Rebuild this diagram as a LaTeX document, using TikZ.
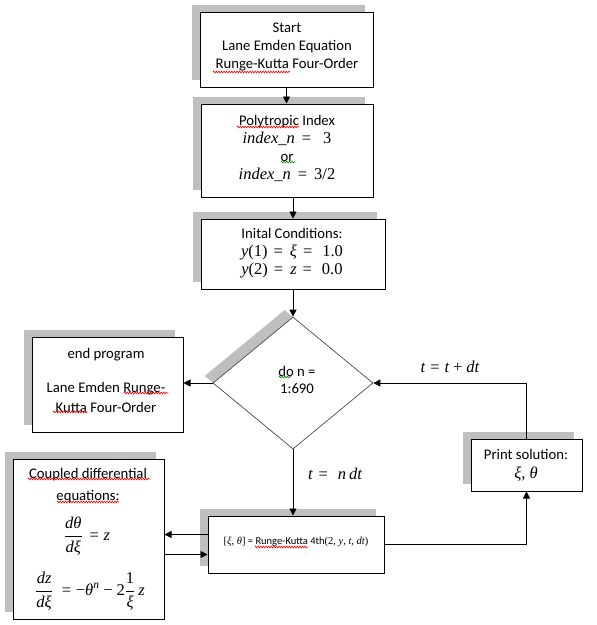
\documentclass[tikz,border=0pt]{standalone}
\usepackage{fontspec}
\setmainfont{Carlito}
\newfontfamily\mf{Liberation Serif}
\usepackage{amsmath}
\newcommand\mv[1]{{\mf\itshape #1}}
\newcommand\mn[1]{{\mf #1}}
\newcommand\tv[1]{\text{\mf\itshape #1}}
\newcommand\tn[1]{\text{\mf #1}}
\newcommand\meq[2]{\mn{\hspace{#1}=\hspace{#2}}}
\newcommand\mfs{\fontsize{16.5}{18}\selectfont}
\usetikzlibrary{shapes.geometric,shadows,arrows.meta,decorations.pathmorphing}
\begin{document}
\begin{tikzpicture}[x=1pt,y=-1pt,
  box/.style={draw=black,line width=1pt,fill=white,inner sep=0pt,
    general shadow={shadow xshift=-8pt,shadow yshift=7pt,fill=black!25}},
  txt/.style={align=center,inner sep=0pt,font=\fontsize{14.7}{18}\selectfont},
  conn/.style={line width=0.9pt,-{Triangle[length=7pt,width=7pt]}},
  rsq/.style={draw=red,line width=0.6pt,decorate,decoration={zigzag,segment length=2.6pt,amplitude=0.9pt}},
  gsq/.style={rsq,draw=green!55!black}]
\useasboundingbox (0,0) rectangle (597,625);
\fill[white] (0,0) rectangle (597,625);

\node[box,minimum width=173pt,minimum height=75pt] (s) at (286.5,49.5) {};
\node[txt] (ts) at (287,46.5) {Start\\Lane Emden Equation\\Runge-Kutta Four-Order};

\node[box,minimum width=172pt,minimum height=93pt] (p) at (287,150.5) {};
\node[txt] (tp) at (287,148) {Polytropic Index\\{\mfs\mv{index\_n}\meq{7pt}{12pt}\mn{3}}\\or\\{\mfs\mv{index\_n}\meq{7pt}{7pt}\mn{3/2}}};

\node[box,minimum width=184pt,minimum height=70pt] (b3) at (293,254) {};
\node[txt] (tb3) at (292,253) {Inital Conditions:\\{\mfs\mv{y}\mn{(1)}\meq{6pt}{7pt}\mv{ξ}\meq{6pt}{10pt}\mn{1.0}}\\{\mfs\mv{y}\mn{(2)}\meq{6pt}{7pt}\mv{z}\meq{6pt}{10pt}\mn{0.0}}};

\node[diamond,draw=black!70,line width=0.7pt,fill=white,minimum width=160pt,minimum height=132pt,inner sep=0pt,
  general shadow={shadow xshift=-8.5pt,shadow yshift=7pt,fill=black!25}] (d) at (293,383) {};
\node[txt,font=\fontsize{14.7}{17}\selectfont] (td) at (297,380) {do n =\\1:690};

\node[box,minimum width=151pt,minimum height=95pt] (e) at (107.5,384.5) {};
\node[txt,font=\fontsize{14.7}{20}\selectfont] (te) at (106,380) {end program\\[14pt]Lane Emden Runge-\\Kutta Four-Order};

\node[box,minimum width=151pt,minimum height=160pt] (c) at (88.5,539) {};
\node[txt,font=\fontsize{14.7}{22}\selectfont] (tc) at (88,486) {Coupled differential\\equations:};
\node[txt,font=\mfs] (eq1) at (87,536) {$\dfrac{\tv{dθ}}{\tv{dξ}}\hspace{2pt} \mathrel{\tn{=}} \tv{z}$};
\node[txt,font=\mfs] (eq2) at (90,591) {$\dfrac{\tv{dz}}{\tv{dξ}}\hspace{4pt} \mathrel{\tn{=}} \tn{−}\tv{θ}^{\tv{n}} \mathbin{\tn{−}} \tn{2}\dfrac{\tn{1}}{\tv{ξ}}\,\tv{z}$};

\node[box,minimum width=176pt,minimum height=57pt] (rk) at (296,544.5) {};
\node[txt,font=\fontsize{10.5}{12}\selectfont] (trk) at (296,542) {\mn{[}\mv{ξ}\mn{, }\mv{θ}\mn{]} = Runge-Kutta 4th\mn{(2, }\mv{y}\mn{, }\mv{t}\mn{, }\mv{dt}\mn{)}};

\node[box,minimum width=111pt,minimum height=52pt] (pr) at (526.5,465) {};
\node[txt,font=\fontsize{14.7}{19}\selectfont] (tpr) at (526,465) {Print solution:\\{\mfs\mv{ξ}\mn{, }\mv{θ}}};

\node[txt,font=\mfs] (ln) at (335,474) {\mv{t}\meq{6pt}{10pt}\mv{n}\hspace{3pt}\mv{dt}};
\node[txt,font=\mfs] (lt) at (450,367) {\mv{t}\meq{5pt}{5pt}\mv{t}\mn{\hspace{4pt}+\hspace{4pt}}\mv{dt}};

% spell-check squiggles
\draw[rsq] (213,72) -- (290,72);
\draw[rsq] (237,127) -- (299,127);
\draw[gsq] (281,162) -- (295,162);
\draw[gsq] (279,377) -- (291,377);
\draw[rsq] (124,393) -- (168,393);
\draw[rsq] (53,412) -- (88,412);
\draw[rsq] (28,479) -- (150,479);
\draw[rsq] (57,502) -- (119,502);
\draw[rsq] (255,547) -- (308,547);

\draw[conn] (s.south) -- (s.south |- p.north);
\draw[conn] (b3.north |- p.south) -- (b3.north);
\draw[conn] (b3.south -| d.north) -- (d.north);
\draw[conn] (d.west) -- (d.west -| e.east);
\draw[conn] (d.south) -- (d.south |- rk.north);
\draw[conn] ([yshift=10pt]rk.west) -- ([yshift=10pt]rk.west -| c.east);
\draw[conn] ([yshift=-10pt]rk.west -| c.east) -- ([yshift=-10pt]rk.west);
\draw[conn] (rk.east) -| (pr.south);
\draw[conn] (pr.north) |- (d.east);
\end{tikzpicture}
\end{document}
